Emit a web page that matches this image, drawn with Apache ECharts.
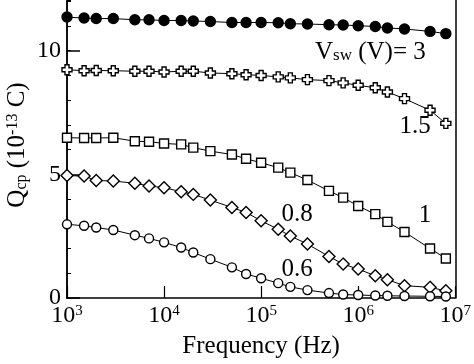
<!DOCTYPE html>
<html><head><meta charset="utf-8">
<script src="https://cdn.jsdelivr.net/npm/echarts@6/dist/echarts.min.js"></script>
<style>html,body{margin:0;padding:0;background:#fff}#c{width:474px;height:364px}</style>
</head><body><div id="c"></div>
<script>
// ---- data ----
const freqHz = [1e3,1.5e3,2e3,3e3,5e3,7e3,1e4,1.5e4,2e4,3e4,5e4,7e4,1e5,1.5e5,2e5,3e5,5e5,7e5,1e6,1.5e6,2e6,3e6,5.5e6,8e6];
const qV3  = [11.36,11.32,11.30,11.30,11.25,11.25,11.22,11.22,11.20,11.18,11.14,11.14,11.14,11.13,11.09,11.08,11.05,11.04,11.01,10.98,10.92,10.88,10.78,10.69];
const qV15 = [9.23,9.19,9.20,9.19,9.17,9.17,9.14,9.17,9.17,9.10,9.07,9.03,9.00,8.94,8.90,8.83,8.79,8.70,8.60,8.50,8.33,8.06,7.59,7.06];
const qV1  = [6.48,6.47,6.47,6.48,6.34,6.32,6.25,6.21,6.08,5.94,5.80,5.63,5.47,5.27,5.07,4.77,4.33,4.06,3.72,3.39,3.08,2.67,2.00,1.60];
const qV08 = [4.95,4.93,4.75,4.73,4.64,4.53,4.46,4.30,4.19,3.96,3.66,3.46,3.12,2.78,2.51,2.18,1.68,1.37,1.17,0.90,0.74,0.50,0.43,0.29];
const qV06 = [2.98,2.92,2.85,2.75,2.54,2.41,2.25,2.04,1.84,1.57,1.24,0.97,0.80,0.60,0.45,0.32,0.20,0.14,0.12,0.10,0.09,0.08,0.07,0.06];
const xTickExponents = [3,4,5,6,7];
const yTickValues = [0,5,10];
const seriesNames = ['3','1.5','1','0.8','0.6'];

const FONT = '"Liberation Serif","Times New Roman",serif';
const pair = arr => freqHz.map((f,i)=>[f,arr[i]]);
const crossPath = 'path://M3,0H7V3H10V7H7V10H3V7H0V3H3Z';

function mkSeries(name, data, symbol, size, filled) {
  return {
    name, type:'line', data: pair(data), symbol, symbolSize:size, showAllSymbol:true,
    lineStyle:{color:'#000', width:1},
    itemStyle:{color: filled ? '#000' : '#fff', borderColor:'#000', borderWidth:1.4},
    emphasis:{disabled:true}, z:3
  };
}

const axisLine = {show:true, lineStyle:{color:'#000', width:1.5}};
const Y_MAX = 12.05;
const chart = echarts.init(document.getElementById('c'));
chart.setOption({
  animation:false,
  backgroundColor:'#fff',
  grid:{left:67, right:12, top:0, bottom:65},
  xAxis:{
    type:'log', logBase:10, min:1e3, max:1e7,
    axisLine: axisLine,
    axisTick:{inside:true, length:12, lineStyle:{color:'#000', width:1.2}},
    splitLine:{show:false},
    axisLabel:{
      margin:6,
      formatter: v => {
        const e = Math.round(Math.log10(v));
        return xTickExponents.includes(e) ? '{b|10}{s|' + e + '}' : '';
      },
      rich:{
        b:{fontFamily:FONT, fontSize:24, color:'#000', verticalAlign:'bottom'},
        s:{fontFamily:FONT, fontSize:15, color:'#000', verticalAlign:'top'}
      }
    },
    name:'Frequency (Hz)', nameLocation:'middle', nameGap:36,
    nameTextStyle:{fontFamily:FONT, fontSize:25, color:'#000'}
  },
  yAxis:[
    {
      type:'value', min:0, max:Y_MAX, interval:1, position:'left',
      axisLine: axisLine,
      axisTick:{inside:true, length:4, lineStyle:{color:'#000', width:1}},
      splitLine:{show:false},
      axisLabel:{margin:6, fontFamily:FONT, fontSize:24, color:'#000',
        formatter: v => yTickValues.includes(v) ? String(v) : ''}
    },
    {
      type:'value', min:0, max:Y_MAX, interval:5, position:'left',
      axisLine:{show:true, lineStyle:{color:'#000', width:1.5}},
      axisTick:{show:true, inside:true, length:13, customValues:yTickValues, lineStyle:{color:'#000', width:1.5}},
      axisLabel:{show:false}, splitLine:{show:false}
    },
    {
      type:'value', min:0, max:Y_MAX, interval:5, position:'right',
      axisLine: axisLine, axisTick:{show:false}, axisLabel:{show:false}, splitLine:{show:false}
    }
  ],
  series:[
    mkSeries(seriesNames[0], qV3, 'circle', 10, true),
    mkSeries(seriesNames[1], qV15, crossPath, 10, false),
    mkSeries(seriesNames[2], qV1, 'rect', 9, false),
    mkSeries(seriesNames[3], qV08, 'diamond', 12, false),
    mkSeries(seriesNames[4], qV06, 'circle', 9, false)
  ],
  graphic:[
    {type:'text', x:17, y:145, rotation:Math.PI/2, silent:true,
      style:{text:'{a|Q}{sb|cp}{a| (10}{sp|-13}{a| C)}', align:'center', verticalAlign:'middle',
        rich:{
          a:{fontFamily:FONT, fontSize:25, fill:'#000'},
          sb:{fontFamily:FONT, fontSize:16, fill:'#000', verticalAlign:'bottom'},
          sp:{fontFamily:FONT, fontSize:16, fill:'#000', verticalAlign:'top'}
        }}},
    {type:'text', x:315, y:52, silent:true,
      style:{text:'{a|V}{sb|sw}{a| (V)= ' + seriesNames[0] + '}', align:'left', verticalAlign:'middle',
        rich:{
          a:{fontFamily:FONT, fontSize:25, fill:'#000'},
          sb:{fontFamily:FONT, fontSize:17, fill:'#000', verticalAlign:'bottom'}
        }}},
    {type:'text', x:415, y:126, silent:true,
      style:{text:seriesNames[1], font:'25px ' + FONT, fill:'#000', align:'center', verticalAlign:'middle'}},
    {type:'text', x:425, y:215, silent:true,
      style:{text:seriesNames[2], font:'25px ' + FONT, fill:'#000', align:'center', verticalAlign:'middle'}},
    {type:'text', x:297, y:214, silent:true,
      style:{text:seriesNames[3], font:'25px ' + FONT, fill:'#000', align:'center', verticalAlign:'middle'}},
    {type:'text', x:297, y:269, silent:true,
      style:{text:seriesNames[4], font:'25px ' + FONT, fill:'#000', align:'center', verticalAlign:'middle'}}
  ]
});
</script>
</body></html>
